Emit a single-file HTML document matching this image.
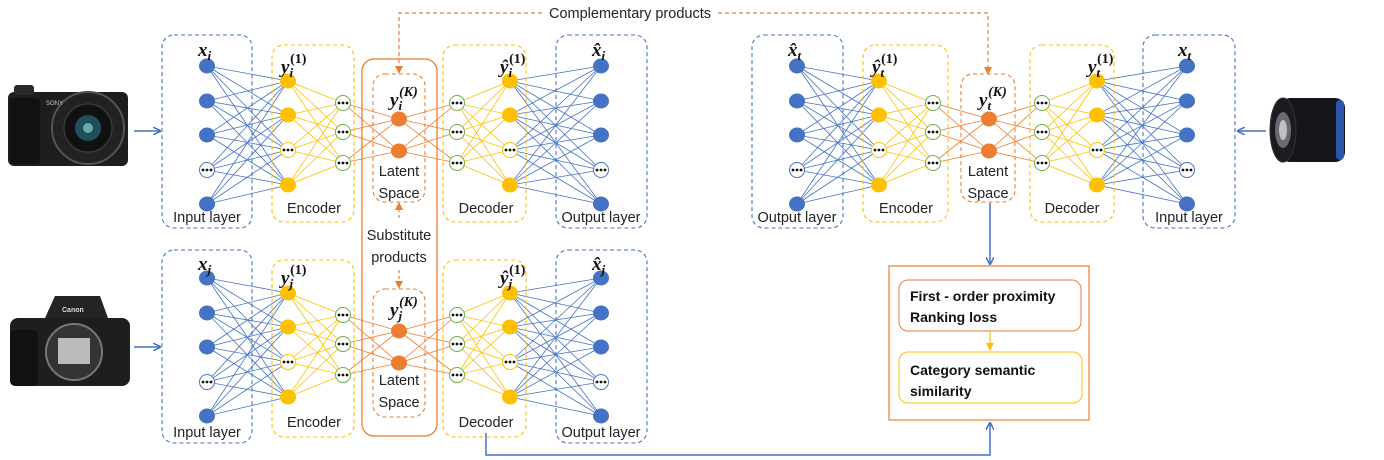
<!DOCTYPE html>
<html><head><meta charset="utf-8"><style>
html,body{margin:0;padding:0;background:#fff}
svg{display:block}
text{font-family:"Liberation Sans",sans-serif}
.m{font-family:"Liberation Serif",serif;font-weight:bold;font-style:italic}
.mb{font-family:"Liberation Serif",serif;font-weight:bold}
</style></head><body>
<svg id="s" width="1384" height="460" viewBox="0 0 1384 460" xmlns="http://www.w3.org/2000/svg">
<defs>
<marker id="ab" markerWidth="8" markerHeight="8" refX="7" refY="4" orient="auto" markerUnits="userSpaceOnUse"><path d="M0,0 L8,4 L0,8" fill="none" stroke="#4472C4" stroke-width="1.5"/></marker>
<marker id="ao" markerWidth="8" markerHeight="8" refX="7" refY="4" orient="auto" markerUnits="userSpaceOnUse"><path d="M0,0 L8,4 L0,8 z" fill="#ED7D31"/></marker>
<marker id="ay" markerWidth="8" markerHeight="8" refX="7" refY="4" orient="auto" markerUnits="userSpaceOnUse"><path d="M0,0 L8,4 L0,8 z" fill="#FFC000"/></marker>
</defs>
<g id="lines"></g>
<g id="boxes"></g>
<g id="nodes"></g>

<g>
<rect x="8" y="92" width="120" height="74" rx="6" fill="#1e1e1e"/>
<rect x="14" y="85" width="20" height="10" rx="3" fill="#2a2a2a"/>
<rect x="10" y="98" width="30" height="66" rx="4" fill="#111"/>
<circle cx="88" cy="128" r="36" fill="#222" stroke="#555" stroke-width="2"/>
<circle cx="88" cy="128" r="24" fill="#111" stroke="#444"/>
<circle cx="88" cy="128" r="13" fill="#1f4f5a"/>
<circle cx="88" cy="128" r="5" fill="#6aa"/>
<text x="46" y="105" font-size="6" fill="#ccc">SONY</text>
</g>
<g>
<rect x="10" y="318" width="120" height="68" rx="8" fill="#1e1e1e"/>
<path d="M45,318 L55,296 L100,296 L108,318 z" fill="#242424"/>
<rect x="10" y="330" width="28" height="56" rx="5" fill="#111"/>
<circle cx="74" cy="352" r="28" fill="#333" stroke="#777" stroke-width="2"/>
<rect x="58" y="338" width="32" height="26" fill="#bbb"/>
<text x="62" y="312" font-size="7" fill="#ddd" font-weight="bold">Canon</text>
</g>
<g>
<rect x="1280" y="98" width="65" height="64" rx="10" fill="#15161c"/>
<rect x="1336" y="100" width="8" height="60" rx="4" fill="#2c54a8"/>
<ellipse cx="1283" cy="130" rx="13" ry="32" fill="#1b1c22" stroke="#333"/>
<ellipse cx="1283" cy="130" rx="8" ry="18" fill="#6a6a70"/>
<ellipse cx="1283" cy="130" rx="4" ry="10" fill="#c0c0c4"/>
</g>

<line x1="134" y1="131" x2="160" y2="131" stroke="#4472C4" stroke-width="1.5" marker-end="url(#ab)"/>
<line x1="134" y1="347" x2="160" y2="347" stroke="#4472C4" stroke-width="1.5" marker-end="url(#ab)"/>
<line x1="1266" y1="131" x2="1238" y2="131" stroke="#4472C4" stroke-width="1.5" marker-end="url(#ab)"/>

<path d="M542,13 L399,13 L399,73" fill="none" stroke="#ED7D31" stroke-width="1.2" stroke-dasharray="4,3" marker-end="url(#ao)"/>
<path d="M718,13 L988,13 L988,74" fill="none" stroke="#ED7D31" stroke-width="1.2" stroke-dasharray="4,3" marker-end="url(#ao)"/>
<text x="630" y="18" font-size="14.5" text-anchor="middle" fill="#222">Complementary products</text>
<rect x="362" y="59" width="75" height="377" rx="12" fill="none" stroke="#ED7D31" stroke-width="1.3"/>
<line x1="399" y1="218" x2="399" y2="203" stroke="#ED7D31" stroke-width="1.2" stroke-dasharray="3,3" marker-end="url(#ao)"/>
<line x1="399" y1="270" x2="399" y2="288" stroke="#ED7D31" stroke-width="1.2" stroke-dasharray="3,3" marker-end="url(#ao)"/>
<text x="399" y="240" font-size="14.5" text-anchor="middle" fill="#222">Substitute</text>
<text x="399" y="262" font-size="14.5" text-anchor="middle" fill="#222">products</text>

<line x1="990" y1="203" x2="990" y2="264" stroke="#4472C4" stroke-width="1.5" marker-end="url(#ab)"/>
<path d="M486,433 L486,455 L990,455 L990,423" fill="none" stroke="#4472C4" stroke-width="1.5" marker-end="url(#ab)"/>
<rect x="889" y="266" width="200" height="154" fill="none" stroke="#ED7D31" stroke-width="1.2"/>
<rect x="899" y="280" width="182" height="51" rx="9" fill="#fff" stroke="#ED7D31" stroke-width="1"/>
<rect x="899" y="352" width="183" height="51" rx="9" fill="#fff" stroke="#FFC000" stroke-width="1"/>
<line x1="990" y1="331" x2="990" y2="350" stroke="#FFC000" stroke-width="1.2" marker-end="url(#ay)"/>
<text x="910" y="301" font-size="14" font-weight="bold" fill="#111">First - order proximity</text>
<text x="910" y="322" font-size="14" font-weight="bold" fill="#111">Ranking loss</text>
<text x="910" y="375" font-size="14" font-weight="bold" fill="#111">Category semantic</text>
<text x="910" y="396" font-size="14" font-weight="bold" fill="#111">similarity</text>

<g id="labels" font-size="14.5" fill="#222" text-anchor="middle">
<text x="207" y="222">Input layer</text><text x="314" y="213">Encoder</text>
<text x="399" y="176">Latent</text><text x="399" y="198">Space</text>
<text x="486" y="213">Decoder</text><text x="601" y="222">Output layer</text>
<text x="207" y="437">Input layer</text><text x="314" y="427">Encoder</text>
<text x="399" y="385">Latent</text><text x="399" y="407">Space</text>
<text x="486" y="427">Decoder</text><text x="601" y="437">Output layer</text>
<text x="797" y="222">Output layer</text><text x="906" y="213">Encoder</text>
<text x="988" y="176">Latent</text><text x="988" y="198">Space</text>
<text x="1072" y="213">Decoder</text><text x="1189" y="222">Input layer</text>
</g>
<g font-size="19" fill="#111">
<text class="m" x="198" y="56">x<tspan font-size="13" dy="4">i</tspan></text>
<text class="m" x="281" y="73">y<tspan font-size="13" dy="4">i</tspan><tspan class="mb" font-style="normal" font-size="14" dy="-14" dx="-3">(1)</tspan></text>
<text class="m" x="390" y="106">y<tspan font-size="13" dy="4">i</tspan><tspan font-size="14" dy="-14" dx="-3">(K)</tspan></text>
<text class="m" x="500" y="73">ŷ<tspan font-size="13" dy="4">i</tspan><tspan class="mb" font-style="normal" font-size="14" dy="-14" dx="-3">(1)</tspan></text>
<text class="m" x="592" y="56">x̂<tspan font-size="13" dy="4">i</tspan></text>

<text class="m" x="198" y="270">x<tspan font-size="13" dy="4">j</tspan></text>
<text class="m" x="281" y="284">y<tspan font-size="13" dy="4">j</tspan><tspan class="mb" font-style="normal" font-size="14" dy="-14" dx="-3">(1)</tspan></text>
<text class="m" x="390" y="316">y<tspan font-size="13" dy="4">j</tspan><tspan font-size="14" dy="-14" dx="-3">(K)</tspan></text>
<text class="m" x="500" y="284">ŷ<tspan font-size="13" dy="4">j</tspan><tspan class="mb" font-style="normal" font-size="14" dy="-14" dx="-3">(1)</tspan></text>
<text class="m" x="592" y="270">x̂<tspan font-size="13" dy="4">j</tspan></text>

<text class="m" x="788" y="56">x̂<tspan font-size="13" dy="4">t</tspan></text>
<text class="m" x="872" y="73">ŷ<tspan font-size="13" dy="4">t</tspan><tspan class="mb" font-style="normal" font-size="14" dy="-14" dx="-3">(1)</tspan></text>
<text class="m" x="979" y="106">y<tspan font-size="13" dy="4">t</tspan><tspan font-size="14" dy="-14" dx="-3">(K)</tspan></text>
<text class="m" x="1088" y="73">y<tspan font-size="13" dy="4">t</tspan><tspan class="mb" font-style="normal" font-size="14" dy="-14" dx="-3">(1)</tspan></text>
<text class="m" x="1178" y="56">x<tspan font-size="13" dy="4">t</tspan></text>
</g>

<script>
(function(){
var NS="http://www.w3.org/2000/svg";
var L=document.getElementById("lines"),B=document.getElementById("boxes"),N=document.getElementById("nodes");
var BL="#4472C4",YE="#FFC000",GR="#70AD47",OR="#ED7D31";
function el(p,t,a){var e=document.createElementNS(NS,t);for(var k in a)e.setAttribute(k,a[k]);p.appendChild(e);return e;}
function box(x1,x2,y1,y2,c){el(B,"rect",{x:x1,y:y1,width:x2-x1,height:y2-y1,rx:12,fill:"none",stroke:c,"stroke-width":1.1,"stroke-dasharray":"4,3"});}
function node(x,y,c,dots){
  if(dots){el(N,"circle",{cx:x,cy:y,r:7.5,fill:"#fff",stroke:c,"stroke-width":1});
    for(var i=-1;i<=1;i++)el(N,"circle",{cx:x+i*4,cy:y,r:1.4,fill:"#111"});}
  else el(N,"ellipse",{cx:x,cy:y,rx:8,ry:7.5,fill:c});
}
function net(X,dy){
  var yb=[66,101,135,170,204],yy=[81,115,150,185],yg=[103,132,163],yo=[119,151];
  var cols=[[X[0],yb,BL,3],[X[1],yy,YE,2],[X[2],yg,GR,-1],[X[3],yo,OR,-1],[X[4],yg,GR,-1],[X[5],yy,YE,2],[X[6],yb,BL,3]];
  var lc=[BL,YE,OR,OR,YE,BL];
  for(var c=0;c<6;c++){var a=cols[c],b=cols[c+1];
    a[1].forEach(function(ya){b[1].forEach(function(yb2){
      el(L,"line",{x1:a[0],y1:ya+dy,x2:b[0],y2:yb2+dy,stroke:lc[c],"stroke-width":0.8});});});}
  cols.forEach(function(cl){cl[1].forEach(function(y,i){node(cl[0],y+dy,cl[2],cl[2]==GR||i==cl[3]);});});
}
[[0,BL,162,252,35,228],[0,YE,272,354,45,222],[0,OR,373,425,74,202],[0,YE,443,526,45,222],[0,BL,556,647,35,228]].forEach(function(b){
  box(b[2],b[3],b[4],b[5],b[1]);box(b[2],b[3],b[4]+215,b[5]+215,b[1]);});
[[BL,752,843,35,228],[YE,863,948,45,222],[OR,961,1015,74,202],[YE,1030,1114,45,222],[BL,1143,1235,35,228]].forEach(function(b){box(b[1],b[2],b[3],b[4],b[0]);});
net([207,288,343,399,457,510,601],0);
net([207,288,343,399,457,510,601],212);
net([797,879,933,989,1042,1097,1187],0);
})();
</script>
</svg>
</body></html>
